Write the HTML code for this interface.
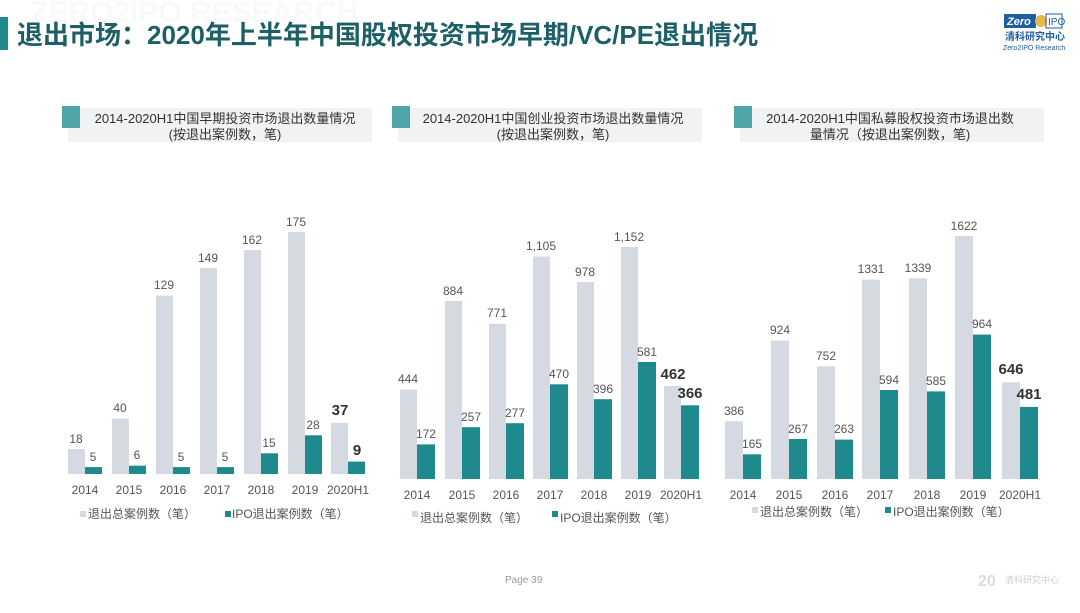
<!DOCTYPE html><html><head><meta charset="utf-8"><style>
body{margin:0;background:#fff;width:1080px;height:608px;overflow:hidden;font-family:"Liberation Sans","Noto Sans CJK SC",sans-serif}
</style></head><body>
<svg width="1080" height="608" xmlns="http://www.w3.org/2000/svg" font-family="Liberation Sans, Noto Sans CJK SC, sans-serif">
<text x="30" y="22" font-size="30" font-weight="bold" fill="#f8f9fa">ZERO2IPO RESEARCH</text>
<rect x="0" y="17" width="8" height="33" fill="#1f8a8e"/>
<text x="17" y="44" font-size="26" font-weight="bold" fill="#1d5f66">退出市场：2020年上半年中国股权投资市场早期/VC/PE退出情况</text>
<rect x="1004" y="14" width="32" height="14" fill="#1f5fa0"/><text x="1007" y="25" font-size="11" font-weight="bold" fill="#fff" font-style="italic">Zero</text>
<circle cx="1041" cy="21" r="6" fill="#e8b84a"/><rect x="1046" y="14" width="16" height="14" fill="none" stroke="#1f5fa0"/><text x="1048" y="25" font-size="10" fill="#1f5fa0">IPO</text>
<text x="1005" y="40" font-size="10" font-weight="bold" fill="#1f5fa0">清科研究中心</text>
<text x="1003" y="50" font-size="7" fill="#1f5fa0">Zero2IPO Research</text>
<g font-size="13" fill="#333" text-anchor="middle">
<rect x="68" y="108" width="304" height="34" fill="#f1f2f4"/><rect x="62" y="106" width="18" height="22" fill="#4fa4a8"/>
<text x="225" y="123">2014-2020H1中国早期投资市场退出数量情况</text><text x="225" y="139">(按退出案例数，笔)</text>
<rect x="398" y="108" width="304" height="34" fill="#f1f2f4"/><rect x="392" y="106" width="18" height="22" fill="#4fa4a8"/>
<text x="553" y="123">2014-2020H1中国创业投资市场退出数量情况</text><text x="553" y="139">(按退出案例数，笔)</text>
<rect x="740" y="108" width="304" height="34" fill="#f1f2f4"/><rect x="734" y="106" width="18" height="22" fill="#4fa4a8"/>
<text x="890" y="123">2014-2020H1中国私募股权投资市场退出数</text><text x="890" y="139">量情况（按退出案例数，笔)</text>
</g>
<g fill="#d5d9e2">
<rect x="68" y="449.1" width="17" height="24.9"/><rect x="112" y="418.7" width="17" height="55.3"/><rect x="156" y="295.6" width="17" height="178.4"/><rect x="200" y="268" width="17" height="206"/><rect x="244" y="250" width="17" height="224"/><rect x="288" y="232" width="17" height="242"/><rect x="331" y="422.8" width="17" height="51.2"/>
<rect x="400" y="389.6" width="17" height="89.4"/><rect x="445" y="301" width="17" height="178"/><rect x="489" y="323.7" width="17" height="155.3"/><rect x="533" y="256.5" width="17" height="222.5"/><rect x="577" y="282" width="17" height="197"/><rect x="621" y="247" width="17" height="232"/><rect x="664" y="386" width="17" height="93"/>
<rect x="725" y="421.2" width="18" height="57.8"/><rect x="771" y="340.6" width="18" height="138.4"/><rect x="817" y="366.4" width="18" height="112.6"/><rect x="862" y="279.6" width="18" height="199.4"/><rect x="909" y="278.4" width="18" height="200.6"/><rect x="955" y="236" width="18" height="243"/><rect x="1002" y="382.2" width="18" height="96.8"/>
</g>
<g fill="#1f8a8e">
<rect x="85" y="467.1" width="17" height="6.9"/><rect x="129" y="465.7" width="17" height="8.3"/><rect x="173" y="467.1" width="17" height="6.9"/><rect x="217" y="467.1" width="17" height="6.9"/><rect x="261" y="453.3" width="17" height="20.7"/><rect x="305" y="435.3" width="17" height="38.7"/><rect x="348" y="461.6" width="17" height="12.4"/>
<rect x="417" y="444.4" width="18" height="34.6"/><rect x="462" y="427.2" width="18" height="51.8"/><rect x="506" y="423.2" width="18" height="55.8"/><rect x="550" y="384.3" width="18" height="94.7"/><rect x="594" y="399.2" width="18" height="79.8"/><rect x="638" y="362" width="18" height="117"/><rect x="681" y="405.3" width="18" height="73.7"/>
<rect x="743" y="454.3" width="18" height="24.7"/><rect x="789" y="439" width="18" height="40"/><rect x="835" y="439.6" width="18" height="39.4"/><rect x="880" y="390" width="18" height="89"/><rect x="927" y="391.4" width="18" height="87.6"/><rect x="973" y="334.6" width="18" height="144.4"/><rect x="1020" y="406.9" width="18" height="72.1"/>
</g>
<g font-size="12" fill="#555" text-anchor="middle">
<text x="76" y="443">18</text><text x="120" y="412">40</text><text x="164" y="289">129</text><text x="208" y="262">149</text><text x="252" y="244">162</text><text x="296" y="226">175</text>
<text x="93" y="461">5</text><text x="137" y="459">6</text><text x="181" y="461">5</text><text x="225" y="461">5</text><text x="269" y="447">15</text><text x="313" y="429">28</text>
<text x="408" y="383">444</text><text x="453" y="295">884</text><text x="497" y="317">771</text><text x="541" y="250">1,105</text><text x="585" y="276">978</text><text x="629" y="241">1,152</text>
<text x="426" y="438">172</text><text x="471" y="421">257</text><text x="515" y="417">277</text><text x="559" y="378">470</text><text x="603" y="393">396</text><text x="647" y="356">581</text>
<text x="734" y="415">386</text><text x="780" y="334">924</text><text x="826" y="360">752</text><text x="871" y="273">1331</text><text x="918" y="272">1339</text><text x="964" y="230">1622</text>
<text x="752" y="448">165</text><text x="798" y="433">267</text><text x="844" y="433">263</text><text x="889" y="384">594</text><text x="936" y="385">585</text><text x="982" y="328">964</text>
</g>
<g font-size="15" font-weight="bold" fill="#333" text-anchor="middle">
<text x="340" y="415">37</text><text x="357" y="455">9</text>
<text x="673" y="379">462</text><text x="690" y="398">366</text>
<text x="1011" y="374">646</text><text x="1029" y="399">481</text>
</g>
<g font-size="12" fill="#555" text-anchor="middle">
<text x="85" y="494">2014</text><text x="129" y="494">2015</text><text x="173" y="494">2016</text><text x="217" y="494">2017</text><text x="261" y="494">2018</text><text x="305" y="494">2019</text><text x="348" y="494">2020H1</text>
<text x="417" y="499">2014</text><text x="462" y="499">2015</text><text x="506" y="499">2016</text><text x="550" y="499">2017</text><text x="594" y="499">2018</text><text x="638" y="499">2019</text><text x="681" y="499">2020H1</text>
<text x="743" y="499">2014</text><text x="789" y="499">2015</text><text x="835" y="499">2016</text><text x="880" y="499">2017</text><text x="927" y="499">2018</text><text x="973" y="499">2019</text><text x="1020" y="499">2020H1</text>
</g>
<g font-size="12" fill="#555">
<rect x="80" y="511" width="6" height="6" fill="#d5d9e2"/><text x="88" y="518">退出总案例数（笔）</text>
<rect x="225" y="511" width="6" height="6" fill="#1f8a8e"/><text x="232" y="518">IPO退出案例数（笔）</text>
<rect x="412" y="511" width="6" height="6" fill="#d5d9e2"/><text x="420" y="522">退出总案例数（笔）</text>
<rect x="552" y="511" width="6" height="6" fill="#1f8a8e"/><text x="560" y="522">IPO退出案例数（笔）</text>
<rect x="752" y="507" width="6" height="6" fill="#d5d9e2"/><text x="760" y="516">退出总案例数（笔）</text>
<rect x="885" y="507" width="6" height="6" fill="#1f8a8e"/><text x="893" y="516">IPO退出案例数（笔）</text>
</g>
<text x="505" y="583" font-size="10" fill="#999">Page  39</text>
<text x="978" y="586" font-size="16" font-weight="bold" fill="#ddd">20</text>
<text x="1005" y="583" font-size="9" fill="#ccc">清科研究中心</text>
</svg>
</body></html>
